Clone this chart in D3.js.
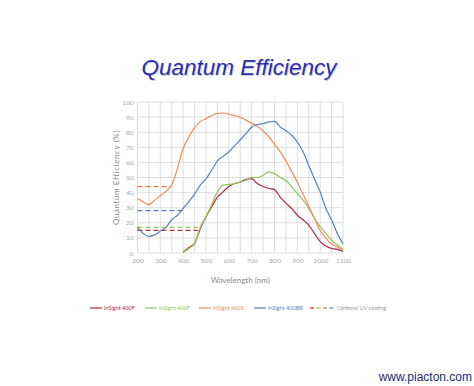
<!DOCTYPE html>
<html><head><meta charset="utf-8">
<script src="https://cdnjs.cloudflare.com/ajax/libs/d3/7.8.5/d3.min.js"></script>
<style>body{margin:0;background:#fff}svg{display:block}</style>
</head><body>
<script>
const wavelengthsF = [400,425,450,475,500,525,550,575,600,625,650,675,700,725,750,775,800,825,850,875,900,925,950,975,1000,1025,1050,1075,1100];
const qe400F = [0.5,3.7,6.4,16,24,30.6,37,40.5,44,46,47,48.7,49.3,46,44,42.7,42,37,33,29.5,25,22,18.5,13,7.5,4.6,3,2.4,1];
const qe400FI = [0.5,3,6.4,17,24,32,40.5,45,45.4,46,47,48,50,50,51.5,53.7,52.6,50,48,44,39.4,35,29.5,23,17.4,13,8.6,5.3,2.4];
const wavelengthsS = [200,225,250,275,300,325,350,375,400,425,450,475,500,525,550,575,600,625,650,675,700,725,750,775,800,825,850,875,900,925,950,975,1000,1025,1050,1075,1100];
const qe400S = [36,34,32,35,38,41,45,56,69,77,83,87,89,91,92.5,92.7,92,91,90,88,86,84,81,77,72,67,61,54,47,39,31,23,15,10,6,4,2];
const qe400BR = [17,13,11,12,14.5,17,22,25,29.5,34,39,45,49,55,61,64,67,71,75,79,83.5,85,85.7,86.8,87.2,83.5,81,78,73.5,67,58,49,40.5,29.5,22,13,6];
const uvCoating = [44,28,17,15];
const uvEnd = [345,400,465,465];
const seriesNames = ["InSight 400F","InSight 400F","InSight 400S","InSight 400BR"];
const xTicks = [200,300,400,500,600,700,800,900,1000,1100];
const yTicks = [0,10,20,30,40,50,60,70,80,90,100];

const colors = ["#b3243e","#8fc65a","#ef8c62","#5b7fb6"];
const dashColors = ["#b33040","#96c455","#e27a45","#5a7cb0"];
const uvColors = ["#e27a45","#5a7cb0","#96c455","#b33040"];

const W=474,H=386;
const svg=d3.select("body").append("svg").attr("width",W).attr("height",H);
const x=d3.scaleLinear().domain([200,1100]).range([137.5,343]);
const y=d3.scaleLinear().domain([0,100]).range([253,102]);

// title
svg.append("text").attr("x",239).attr("y",74.5).attr("text-anchor","middle")
  .attr("font-family","Liberation Sans, Arial, sans-serif").attr("font-style","italic")
  .attr("font-size",22.5).attr("fill","#cfd0e6").attr("transform","translate(1,1)").text("Quantum Efficiency");
svg.append("text").attr("x",239).attr("y",74.5).attr("text-anchor","middle")
  .attr("font-family","Liberation Sans, Arial, sans-serif").attr("font-style","italic")
  .attr("font-size",22.5).attr("fill","#2e2ea6").text("Quantum Efficiency");

// grid
const g=svg.append("g");
g.selectAll("line.v").data(d3.range(200,1101,50)).join("line")
  .attr("x1",d=>x(d)).attr("x2",d=>x(d)).attr("y1",y(0)).attr("y2",y(100))
  .attr("stroke","#d4d4d4").attr("stroke-width",0.8);
g.selectAll("line.h").data(yTicks).join("line")
  .attr("x1",x(200)).attr("x2",x(1100)).attr("y1",d=>y(d)).attr("y2",d=>y(d))
  .attr("stroke","#d4d4d4").attr("stroke-width",0.8);

// axes labels
const tickFont="Lato, DejaVu Sans, sans-serif";
const xAxis=d3.axisBottom(x).tickValues(xTicks).tickFormat(d3.format("d")).tickSize(0).tickPadding(5);
const xa=svg.append("g").attr("transform",`translate(0,${y(0)})`).call(xAxis);
const yAxis=d3.axisLeft(y).tickValues(yTicks).tickFormat(d3.format("d")).tickSize(0).tickPadding(4);
const ya=svg.append("g").attr("transform",`translate(${x(200)},0)`).call(yAxis);
[xa,ya].forEach(a=>{a.select(".domain").remove();
  a.selectAll("text").attr("font-family",tickFont).attr("font-size",6.5).attr("fill","#a8a8a8");});

svg.append("text").attr("x",(x(200)+x(1100))/2).attr("y",283).attr("text-anchor","middle")
  .attr("font-family",tickFont).attr("font-size",8).attr("fill","#8a8a8a").text("Wavelength (nm)");
svg.append("text").attr("transform",`translate(119,${y(50)}) rotate(-90)`).attr("text-anchor","middle")
  .attr("font-family",tickFont).attr("font-size",8).attr("letter-spacing",0.6).attr("fill","#8a8a8a")
  .text("Quantum Efficiency  (%)");

// dashed UV coating lines
svg.selectAll("line.uv").data(uvCoating).join("line")
  .attr("x1",x(200)).attr("x2",(d,i)=>x(uvEnd[i])).attr("y1",d=>y(d)).attr("y2",d=>y(d))
  .attr("stroke",(d,i)=>uvColors[i]).attr("stroke-width",1.3).attr("stroke-dasharray","5,3");

// curves
const series=[
  {wl:wavelengthsF,v:qe400F},
  {wl:wavelengthsF,v:qe400FI},
  {wl:wavelengthsS,v:qe400S},
  {wl:wavelengthsS,v:qe400BR}
];
const line=d3.line().curve(d3.curveMonotoneX);
series.forEach((s,i)=>{
  svg.append("path").attr("d",line(s.wl.map((w,j)=>[x(w),y(s.v[j])])))
    .attr("fill","none").attr("stroke",colors[i]).attr("stroke-width",1.2);
});

// legend
const legX=[90,145,199,254];
const lg=svg.append("g");
seriesNames.forEach((n,i)=>{
  lg.append("line").attr("x1",legX[i]).attr("x2",legX[i]+12).attr("y1",308).attr("y2",308)
    .attr("stroke",colors[i]).attr("stroke-width",1.2);
  lg.append("text").attr("x",legX[i]+14).attr("y",310).attr("font-family",tickFont)
    .attr("font-size",5.5).attr("fill",colors[i]).text(n);
});
dashColors.forEach((c,i)=>{
  lg.append("line").attr("x1",310+i*6.5).attr("x2",310+i*6.5+4).attr("y1",308).attr("y2",308)
    .attr("stroke",c).attr("stroke-width",1.2);
});
lg.append("text").attr("x",337).attr("y",310).attr("font-family",tickFont)
  .attr("font-size",5.5).attr("fill","#9a9a9a").text("Optional UV coating");

// url
svg.append("text").attr("x",472).attr("y",381).attr("text-anchor","end")
  .attr("font-family","Liberation Sans, Arial, sans-serif").attr("font-size",12).attr("fill","#27276e")
  .text("www.piacton.com");
</script>
</body></html>
